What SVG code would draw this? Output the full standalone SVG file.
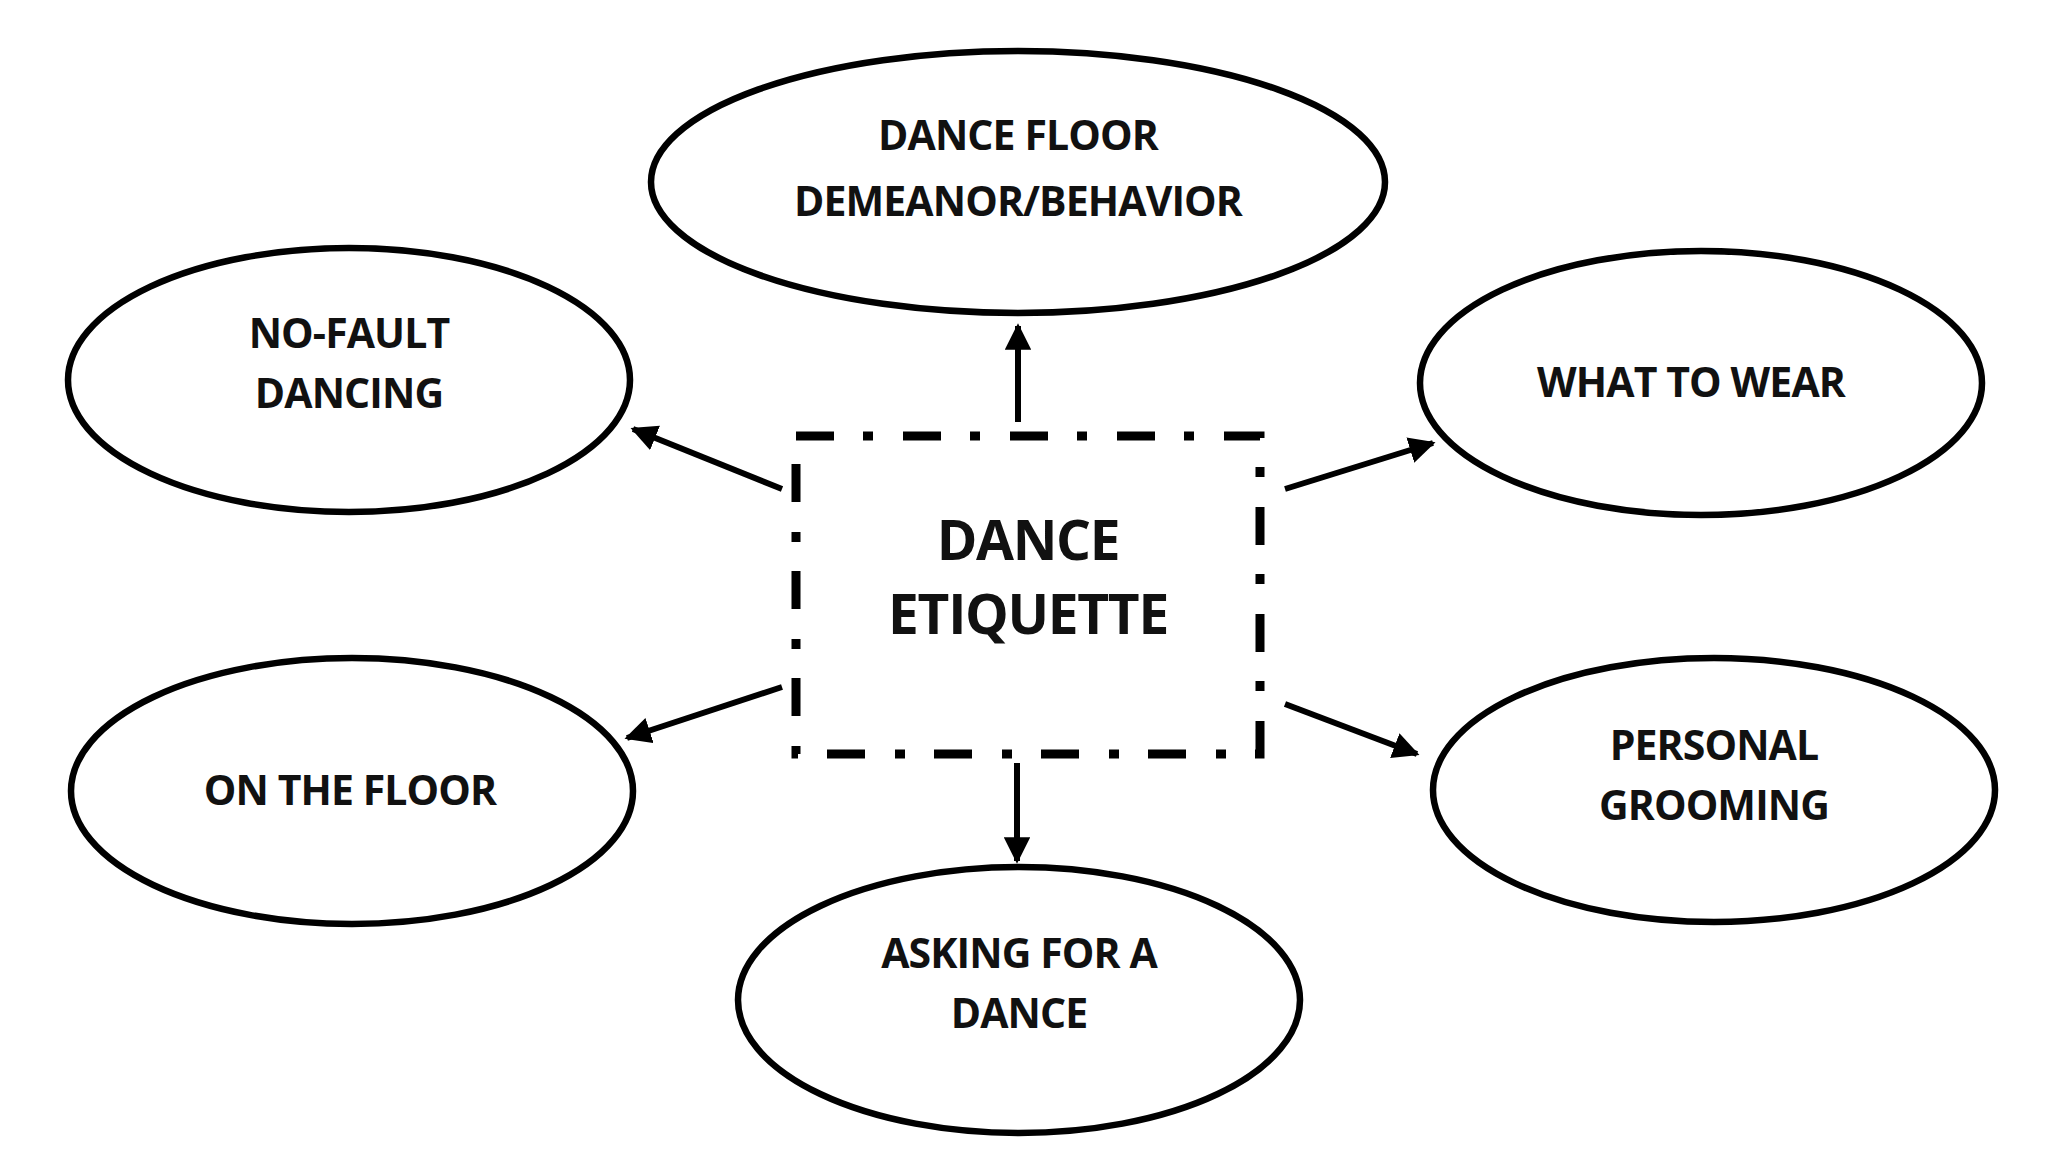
<svg xmlns="http://www.w3.org/2000/svg" width="2048" height="1152" viewBox="0 0 2048 1152">
<defs>
<style>
.node ellipse{fill:#fff;stroke:#000;stroke-width:6.5}
.lbl{font-family:"Open Sans","Liberation Sans",sans-serif;font-weight:700;font-size:41px;fill:#111;text-anchor:middle;letter-spacing:-0.9px}
.big{font-size:55px;letter-spacing:-1.3px}
.conn line{stroke:#000;stroke-width:6;marker-end:url(#ah)}
</style>
<marker id="ah" viewBox="0 0 10 10" refX="9" refY="5" markerWidth="4.4" markerHeight="4.4" orient="auto" markerUnits="strokeWidth">
<path d="M0,0 L10,5 L0,10 z" fill="#000"/>
</marker>
</defs>
<rect width="2048" height="1152" fill="#fff"/>
<g id="center">
<rect x="796" y="436" width="464" height="318" fill="none" stroke="#000" stroke-width="9" stroke-dasharray="38 29 10 30"/>
<text class="lbl big" x="1028" y="560">DANCE</text>
<text class="lbl big" x="1028" y="634">ETIQUETTE</text>
</g>
<g id="demeanor" class="node">
<ellipse cx="1018" cy="182" rx="367" ry="131"/>
<text class="lbl" x="1018" y="150">DANCE FLOOR</text>
<text class="lbl" x="1018" y="216">DEMEANOR/BEHAVIOR</text>
</g>
<g id="nofault" class="node">
<ellipse cx="349" cy="380" rx="281" ry="132"/>
<text class="lbl" x="349" y="348">NO-FAULT</text>
<text class="lbl" x="349" y="408">DANCING</text>
</g>
<g id="wear" class="node">
<ellipse cx="1701" cy="383" rx="281" ry="132"/>
<text class="lbl" x="1691" y="397">WHAT TO WEAR</text>
</g>
<g id="onfloor" class="node">
<ellipse cx="352" cy="791" rx="281" ry="133"/>
<text class="lbl" x="350" y="805">ON THE FLOOR</text>
</g>
<g id="grooming" class="node">
<ellipse cx="1714" cy="790" rx="281" ry="132"/>
<text class="lbl" x="1714" y="760">PERSONAL</text>
<text class="lbl" x="1714" y="820">GROOMING</text>
</g>
<g id="asking" class="node">
<ellipse cx="1019" cy="1000" rx="281" ry="133"/>
<text class="lbl" x="1019" y="968">ASKING FOR A</text>
<text class="lbl" x="1019" y="1028">DANCE</text>
</g>
<g id="connectors" class="conn">
<line x1="1018" y1="422" x2="1018" y2="326"/>
<line x1="782" y1="489" x2="633" y2="429"/>
<line x1="1285" y1="489" x2="1433" y2="443"/>
<line x1="782" y1="687" x2="627" y2="738"/>
<line x1="1285" y1="704" x2="1417" y2="754"/>
<line x1="1017" y1="763" x2="1017" y2="861"/>
</g>
</svg>
